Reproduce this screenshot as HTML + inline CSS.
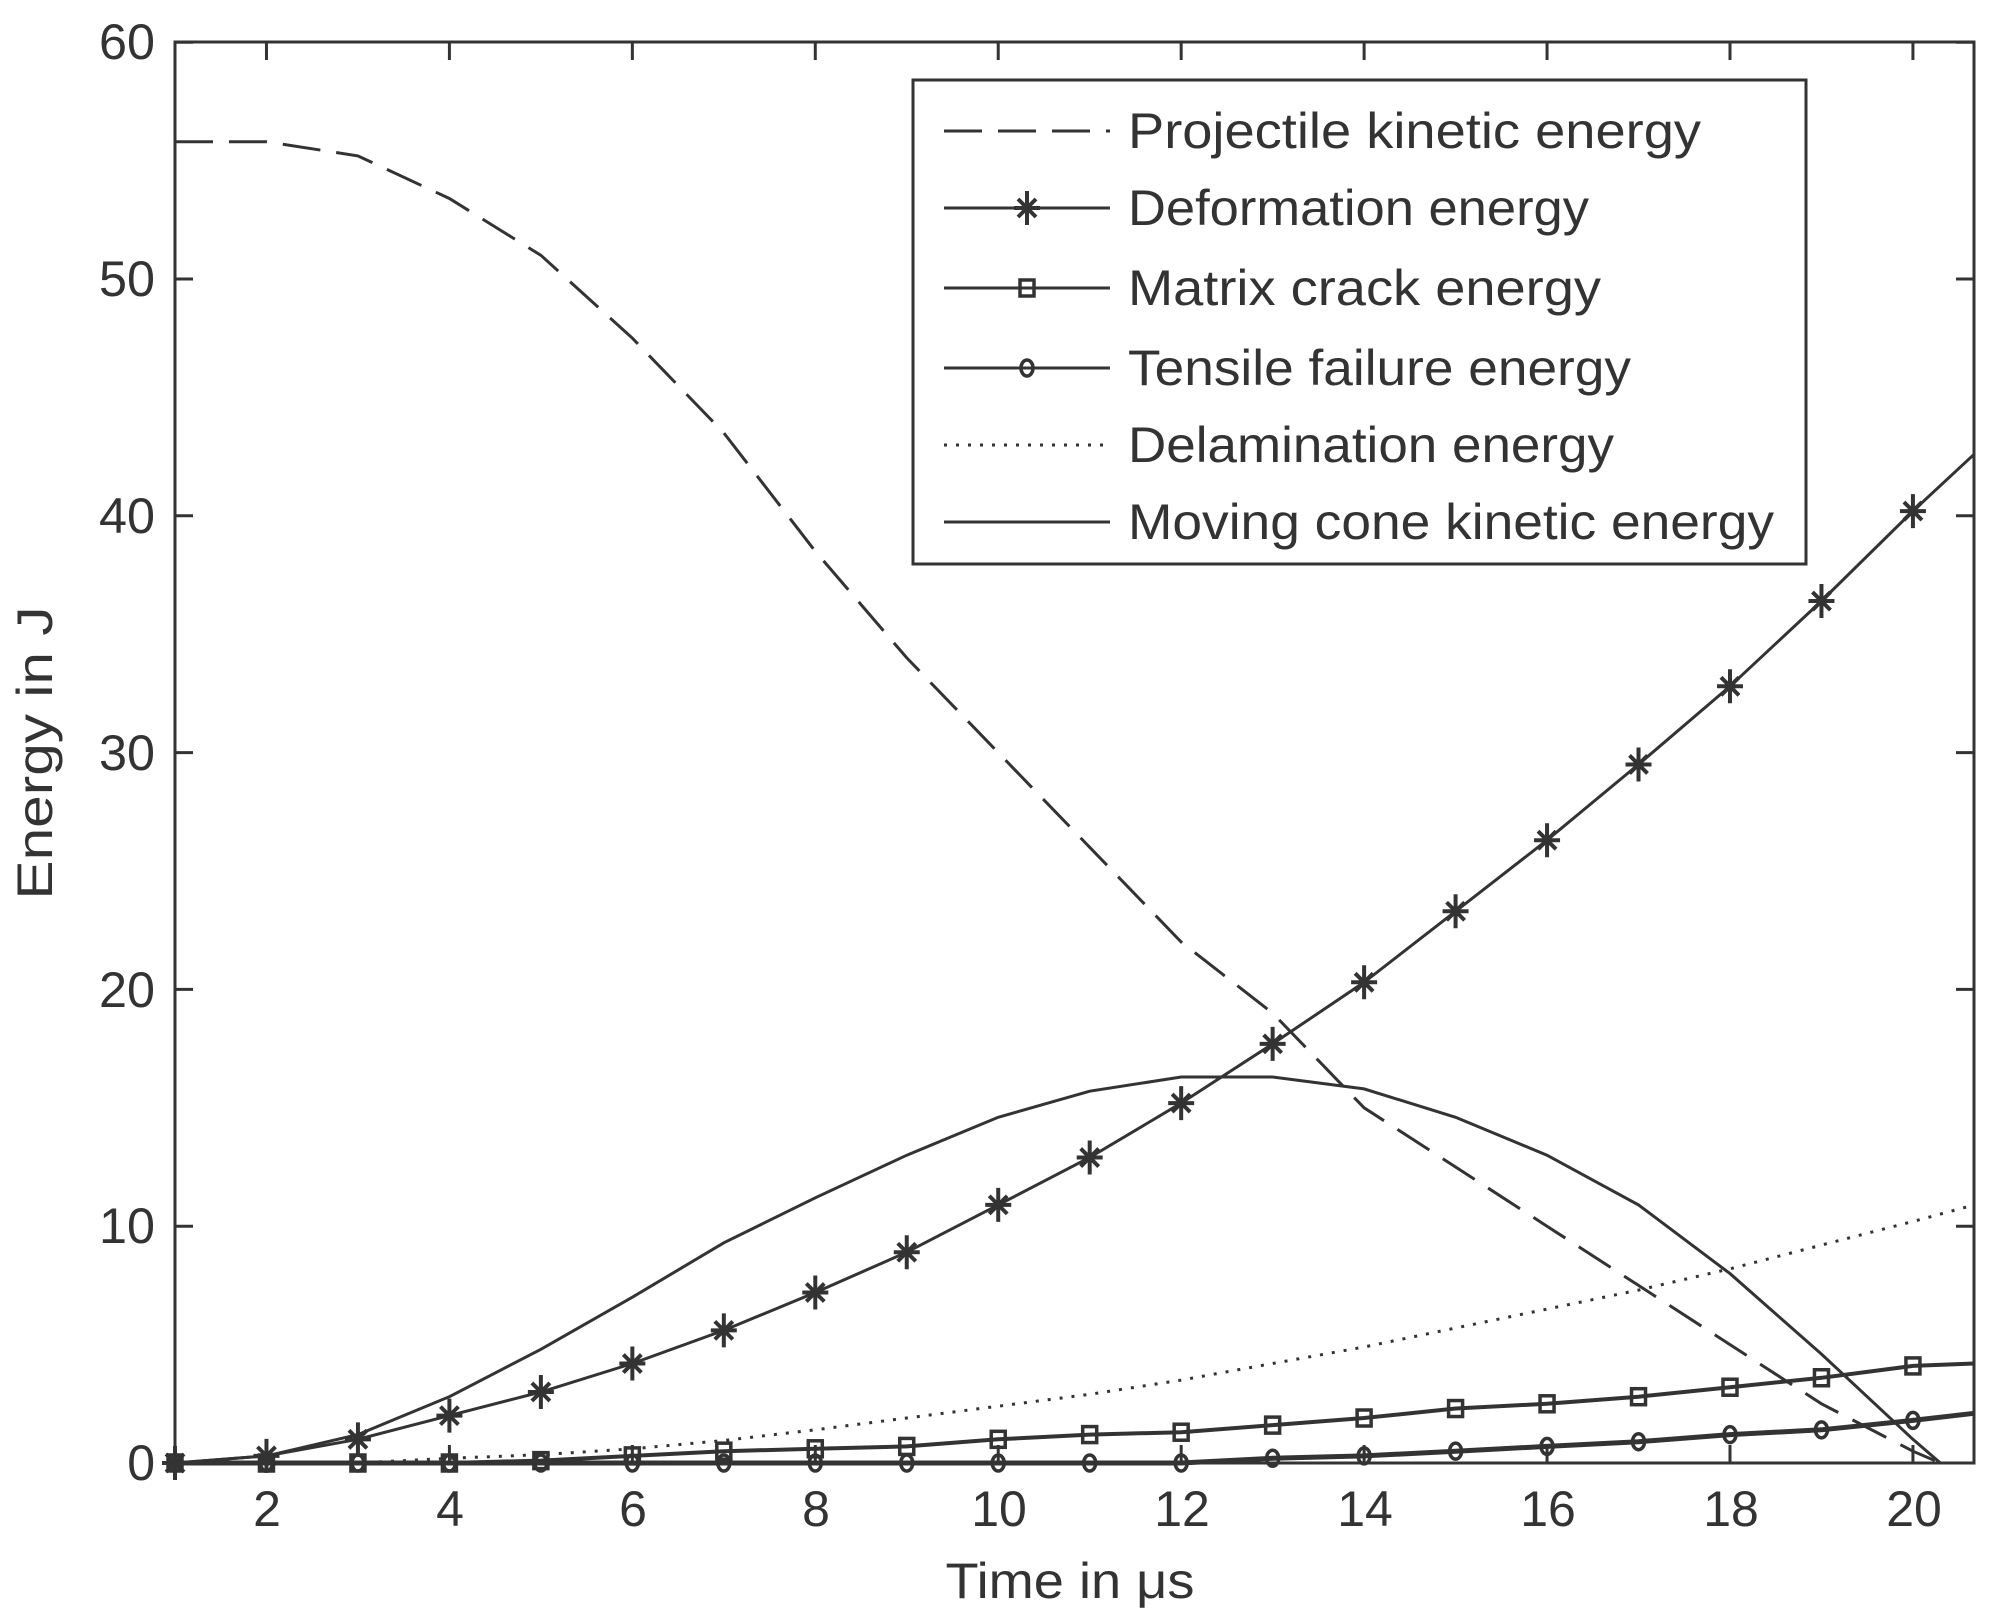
<!DOCTYPE html>
<html><head><meta charset="utf-8"><style>
html,body{margin:0;padding:0;background:#fff}
svg{display:block}
text{font-family:"Liberation Sans",sans-serif;fill:#333}
</style></head><body>
<svg id="s" width="1991" height="1618" viewBox="0 0 1991 1618" xmlns="http://www.w3.org/2000/svg">
<rect x="175" y="42" width="1799" height="1421" fill="none" stroke="#333" stroke-width="3"/>
<g id="ticks" stroke="#333" stroke-width="3"></g>
<g font-size="50">
<text x="155" y="59" text-anchor="end" textLength="56" lengthAdjust="spacingAndGlyphs">60</text>
<text x="155" y="296" text-anchor="end" textLength="56" lengthAdjust="spacingAndGlyphs">50</text>
<text x="155" y="533" text-anchor="end" textLength="56" lengthAdjust="spacingAndGlyphs">40</text>
<text x="155" y="770" text-anchor="end" textLength="56" lengthAdjust="spacingAndGlyphs">30</text>
<text x="155" y="1007" text-anchor="end" textLength="56" lengthAdjust="spacingAndGlyphs">20</text>
<text x="155" y="1243" text-anchor="end" textLength="56" lengthAdjust="spacingAndGlyphs">10</text>
<text x="155" y="1480" text-anchor="end">0</text>
<text x="267" y="1526" text-anchor="middle">2</text>
<text x="450" y="1526" text-anchor="middle">4</text>
<text x="633" y="1526" text-anchor="middle">6</text>
<text x="816" y="1526" text-anchor="middle">8</text>
<text x="999" y="1526" text-anchor="middle">10</text>
<text x="1182" y="1526" text-anchor="middle">12</text>
<text x="1365" y="1526" text-anchor="middle">14</text>
<text x="1548" y="1526" text-anchor="middle">16</text>
<text x="1731" y="1526" text-anchor="middle">18</text>
<text x="1914" y="1526" text-anchor="middle">20</text>
<text x="1070" y="1598" text-anchor="middle" textLength="249" lengthAdjust="spacingAndGlyphs">Time in μs</text>
<text transform="translate(52,753) rotate(-90)" text-anchor="middle" textLength="293" lengthAdjust="spacingAndGlyphs">Energy in J</text>
</g>
<g id="series" fill="none" stroke="#333" stroke-width="3"></g>
<rect x="913" y="80" width="893" height="484" fill="#fff" stroke="#333" stroke-width="3"/>
<g font-size="50">
<text x="1128" y="148" textLength="573" lengthAdjust="spacingAndGlyphs">Projectile kinetic energy</text>
<text x="1128" y="225" textLength="461" lengthAdjust="spacingAndGlyphs">Deformation energy</text>
<text x="1128" y="305" textLength="473" lengthAdjust="spacingAndGlyphs">Matrix crack energy</text>
<text x="1128" y="385" textLength="503" lengthAdjust="spacingAndGlyphs">Tensile failure energy</text>
<text x="1128" y="462" textLength="486" lengthAdjust="spacingAndGlyphs">Delamination energy</text>
<text x="1128" y="539" textLength="646" lengthAdjust="spacingAndGlyphs">Moving cone kinetic energy</text>
</g>
<g id="leg" fill="none" stroke="#333" stroke-width="3"></g>
</svg>
<script>
var X=function(t){return 175+(t-1)*91.47},Y=function(v){return 1463-v*23.68};
var NS="http://www.w3.org/2000/svg";
function el(p,n,a){var e=document.createElementNS(NS,n);for(var k in a)e.setAttribute(k,a[k]);p.appendChild(e);return e}
var tk=document.getElementById('ticks');
for(var t=2;t<=20;t+=2){el(tk,'line',{x1:X(t),y1:1463,x2:X(t),y2:1445});el(tk,'line',{x1:X(t),y1:42,x2:X(t),y2:60});}
for(var v=0;v<=60;v+=10){el(tk,'line',{x1:175,y1:Y(v),x2:193,y2:Y(v)});el(tk,'line',{x1:1974,y1:Y(v),x2:1956,y2:Y(v)});}
var S=document.getElementById('series');
function path(pts,extra){var d=pts.map(function(p,i){return(i?'L':'M')+X(p[0]).toFixed(1)+' '+Y(p[1]).toFixed(1)}).join(' ');var a={d:d};for(var k in extra)a[k]=extra[k];el(S,'path',a)}
function star(g,x,y){var r=13;el(g,'path',{d:'M'+(x-r)+' '+y+'h'+2*r+'M'+x+' '+(y-r-4)+'v'+(2*r+8)+'M'+(x-9)+' '+(y-9)+'l18 18M'+(x-9)+' '+(y+9)+'l18 -18','stroke-width':4})}
function sq(g,x,y){el(g,'rect',{x:x-7,y:y-8,width:14,height:16,'stroke-width':3.5})}
function ci(g,x,y){el(g,'ellipse',{cx:x,cy:y,rx:6,ry:8,'stroke-width':3.5})}
var pke=[[1,55.8],[2,55.8],[3,55.2],[4,53.4],[5,51],[6,47.5],[7,43.5],[8,38.5],[9,34],[10,30],[11,26],[12,22],[13,19],[14,15],[15,12.5],[16,10],[17,7.5],[18,5],[19,2.5],[20,0.5],[20.3,0]];
path(pke,{'stroke-dasharray':'38 16'});
var def=[0,0,0.3,1,2,3,4.2,5.6,7.2,8.9,10.9,12.9,15.2,17.7,20.3,23.3,26.3,29.5,32.8,36.4,40.2];
var dp=[];for(var i=1;i<=20;i++)dp.push([i,def[i]]);dp.push([20.67,42.6]);path(dp);
for(i=1;i<=20;i++)star(S,X(i),Y(def[i]));
var mat=[0,0,0,0,0,0.1,0.3,0.5,0.6,0.7,1,1.2,1.3,1.6,1.9,2.3,2.5,2.8,3.2,3.6,4.1];
var mp=[];for(i=1;i<=20;i++)mp.push([i,mat[i]]);mp.push([20.67,4.2]);path(mp,{'stroke-width':4});
for(i=1;i<=20;i++)sq(S,X(i),Y(mat[i]));
var ten=[0,0,0,0,0,0,0,0,0,0,0,0,0,0.2,0.3,0.5,0.7,0.9,1.2,1.4,1.8];
var tp=[];for(i=1;i<=20;i++)tp.push([i,ten[i]]);tp.push([20.67,2.1]);path(tp,{'stroke-width':5});
for(i=1;i<=20;i++)ci(S,X(i),Y(ten[i]));
path([[1,0],[3,0],[4,0.2],[5,0.35],[6,0.6],[7,0.95],[8,1.4],[9,1.9],[10,2.4],[11,2.9],[12,3.5],[13,4.2],[14,4.9],[15,5.7],[16,6.5],[17,7.3],[18,8.2],[19,9.2],[20,10.2],[20.67,10.9]],{'stroke-dasharray':'3 9'});
path([[1,0],[2,0.3],[3,1.2],[4,2.8],[5,4.8],[6,7],[7,9.3],[8,11.2],[9,13],[10,14.6],[11,15.7],[12,16.3],[13,16.3],[14,15.8],[15,14.6],[16,13],[17,10.9],[18,8],[19,4.6],[20,1],[20.3,0]]);
var L=document.getElementById('leg');
var ys=[131,208,288,368,445,522];
el(L,'line',{x1:944,y1:ys[0],x2:1110,y2:ys[0],'stroke-dasharray':'38 16'});
el(L,'line',{x1:944,y1:ys[1],x2:1110,y2:ys[1]});star(L,1027,ys[1]);
el(L,'line',{x1:944,y1:ys[2],x2:1110,y2:ys[2]});sq(L,1027,ys[2]);
el(L,'line',{x1:944,y1:ys[3],x2:1110,y2:ys[3]});ci(L,1027,ys[3]);
el(L,'line',{x1:944,y1:ys[4],x2:1110,y2:ys[4],'stroke-dasharray':'3 9'});
el(L,'line',{x1:944,y1:ys[5],x2:1110,y2:ys[5]});
</script>
</body></html>
